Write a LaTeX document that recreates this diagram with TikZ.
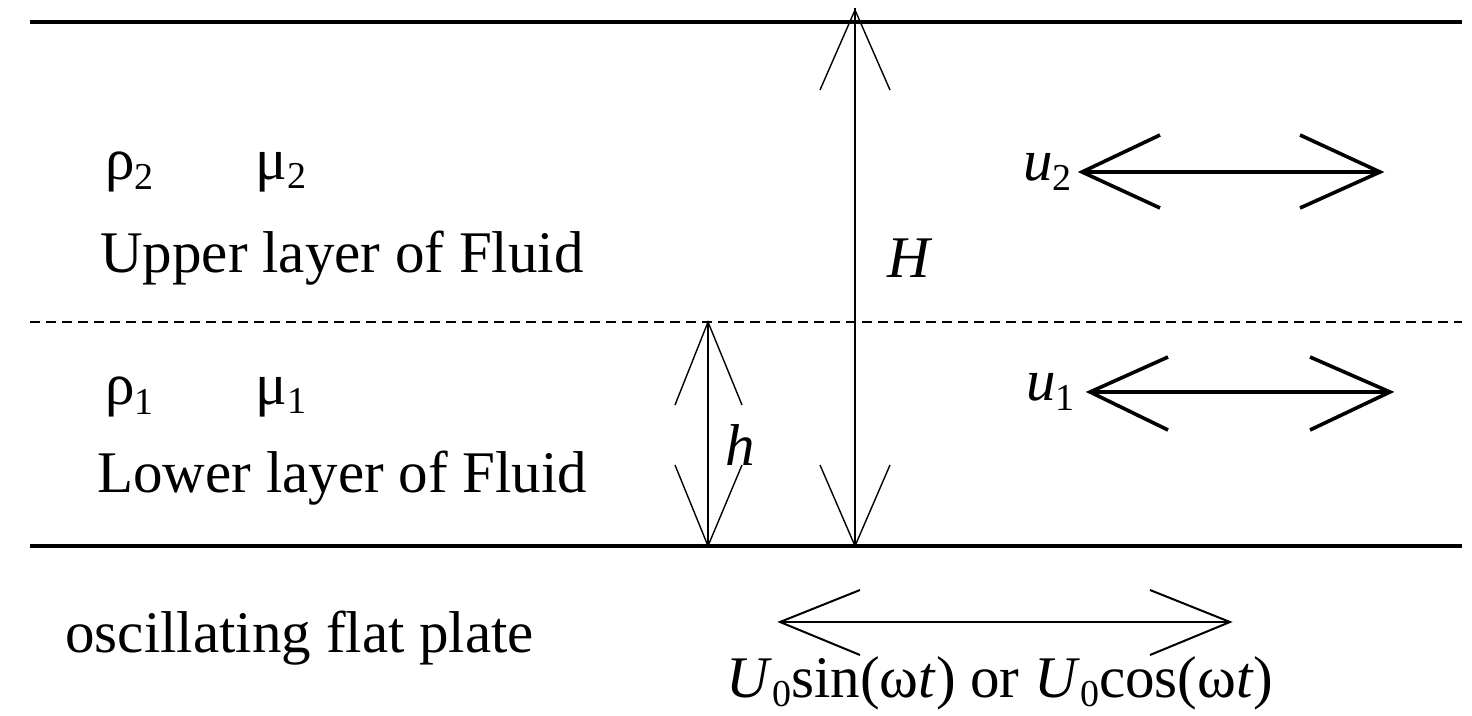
\documentclass[tikz,border=0pt]{standalone}
\usepackage{fontspec}
\setmainfont{Liberation Serif}
\newcommand{\mysb}[1]{\raisebox{-0.35ex}{\fontsize{19}{20}\selectfont #1}}
\begin{document}
\begin{tikzpicture}[x=0.5pt,y=-0.5pt,
  lbl/.style={font=\fontsize{29.5}{32}\selectfont,inner sep=0pt},
  thin/.style={line width=0.7pt},
  bold/.style={line width=1.8pt}]
\useasboundingbox (0,0) rectangle (1472,716);
\draw[line width=2.2pt] (30,22) -- (1462,22);
\draw[line width=1.3pt,dash pattern=on 5pt off 3pt] (30,322) -- (1462,322);
\draw[line width=2.2pt] (30,546) -- (1462,546);
% H arrow
\draw[thin] (855,8) -- (855,546);
\draw[thin] (820,90) -- (855,10) -- (890,90);
\draw[thin] (820,465) -- (855,546) -- (890,465);
% h arrow
\draw[thin] (708,322) -- (708,546);
\draw[thin] (675,405) -- (708,322) -- (742,405);
\draw[thin] (675,465) -- (708,546) -- (742,465);
% u2
\draw[bold] (1082,172) -- (1380,172);
\draw[bold] (1160,135) -- (1082,172) -- (1160,208);
\draw[bold] (1300,135) -- (1380,172) -- (1300,208);
% u1
\draw[bold] (1090,392) -- (1390,392);
\draw[bold] (1168,357) -- (1090,392) -- (1168,430);
\draw[bold] (1310,357) -- (1390,392) -- (1310,430);
% plate
\draw[line width=1pt] (780,622) -- (1230,622);
\draw[line width=1pt] (860,590) -- (780,622) -- (860,655);
\draw[line width=1pt] (1150,590) -- (1230,622) -- (1150,655);
% texts
\node[lbl,anchor=west] (r2) at (105,172) {ρ\mysb{2}};
\node[lbl,anchor=west] (m2) at (255,172) {μ\mysb{2}};
\node[lbl,anchor=west] (up) at (100,258) {Upper layer of Fluid};
\node[lbl,anchor=west] (r1) at (105,397) {ρ\mysb{1}};
\node[lbl,anchor=west] (m1) at (255,397) {μ\mysb{1}};
\node[lbl,anchor=west] (lo) at (97,478) {Lower layer of Fluid};
\node[lbl,anchor=west] (pl) at (65,638) {oscillating flat plate};
\node[lbl] (H) at (910,258) {\textit{H}};
\node[lbl] (h) at (740,445) {\textit{h}};
\node[lbl,anchor=east] (u2) at (1072,172) {\textit{u}\mysb{2}};
\node[lbl,anchor=east] (u1) at (1075,392) {\textit{u}\mysb{1}};
\node[lbl] (U) at (1000,683) {\textit{U}\mysb{0}sin(ω\textit{t}) or \textit{U}\mysb{0}cos(ω\textit{t})};
\end{tikzpicture}
\end{document}
